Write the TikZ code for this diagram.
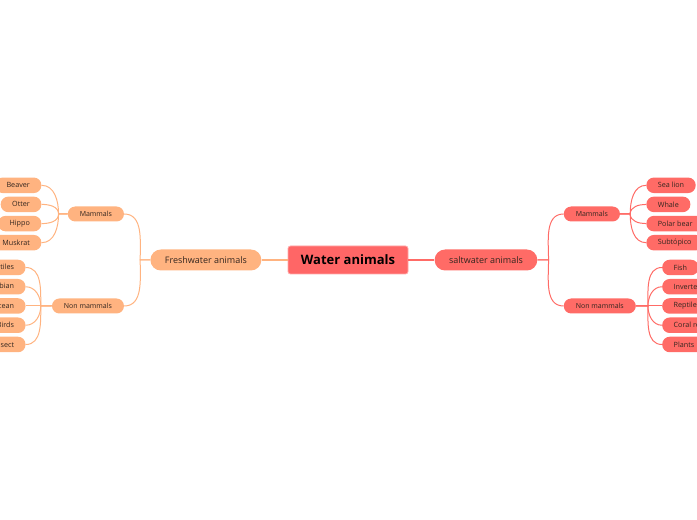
\documentclass[tikz,border=0pt]{standalone}
\usepackage{fontspec}
\setmainfont{Open Sans}
\usetikzlibrary{positioning}
\definecolor{freshorange}{HTML}{FFB380}
\definecolor{saltred}{HTML}{FF6B66}
\definecolor{rootred}{HTML}{FF6666}
\definecolor{rootedge}{HTML}{FFA8A8}
\definecolor{inktext}{HTML}{33261F}
\begin{document}
\begin{tikzpicture}[x=1pt,y=1pt,node distance=26pt,text=inktext,
root/.style={rectangle, rounded corners=2.5pt, fill=rootred, draw=rootedge, line width=0.8pt, minimum width=120pt, minimum height=28pt, font=\fontsize{13}{15}\selectfont\bfseries, text=black},
fresh_main/.style={rectangle, rounded corners=10.5pt, fill=freshorange, minimum height=21pt, inner xsep=14.5pt, inner ysep=0pt, font=\fontsize{9}{11}\selectfont},
salt_main/.style={fresh_main, fill=saltred},
fresh_sub/.style={rectangle, rounded corners=7.5pt, fill=freshorange, minimum height=15pt, inner xsep=12pt, inner ysep=0pt, font=\fontsize{7}{8}\selectfont},
salt_sub/.style={fresh_sub, fill=saltred},
fresh_leaf/.style={fresh_sub, inner xsep=11.5pt, minimum height=15.5pt, font=\fontsize{7.2}{8}\selectfont},
salt_leaf/.style={fresh_leaf, fill=saltred},
fresh_line/.style={draw=freshorange, line width=1pt},
salt_line/.style={draw=saltred, line width=1pt},]
\useasboundingbox (0,0) rectangle (697,520);
\clip (0,0) rectangle (697,520);
% centre and first level
\node[root] (water) at (348,260) {Water animals};
\node[fresh_main, left=of water] (fresh) {Freshwater animals};
\node[salt_main, right=of water] (salt) {saltwater animals};
% freshwater side
\node[fresh_sub, left=of fresh, yshift=46pt] (mam_f) {Mammals};
\node[fresh_sub, left=of fresh, yshift=-46pt] (non_f) {Non mammals};
\node[fresh_leaf, left=of mam_f, yshift=28.7pt] (beaver) {Beaver};
\node[fresh_leaf, left=of mam_f, yshift=9.6pt] (otter) {Otter};
\node[fresh_leaf, left=of mam_f, yshift=-9.6pt] (hippo) {Hippo};
\node[fresh_leaf, left=of mam_f, yshift=-28.7pt] (muskrat) {Muskrat};
\node[fresh_leaf, left=of non_f, yshift=38.5pt] (reptiles_f) {Reptiles};
\node[fresh_leaf, left=of non_f, yshift=19.25pt] (amphibian) {Amphibian};
\node[fresh_leaf, left=of non_f] (crustacean) {Crustacean};
\node[fresh_leaf, left=of non_f, yshift=-19.25pt] (birds) {Birds};
\node[fresh_leaf, left=of non_f, yshift=-38.5pt] (insect) {Insect};
% saltwater side
\node[salt_sub, right=of salt, yshift=46pt] (mam_s) {Mammals};
\node[salt_sub, right=of salt, yshift=-46pt] (non_s) {Non mammals};
\node[salt_leaf, right=of mam_s, yshift=28.7pt] (sealion) {Sea lion};
\node[salt_leaf, right=of mam_s, yshift=9.6pt] (whale) {Whale};
\node[salt_leaf, right=of mam_s, yshift=-9.6pt] (polarbear) {Polar bear};
\node[salt_leaf, right=of mam_s, yshift=-28.7pt] (subtopico) {Subtópico};
\node[salt_leaf, right=of non_s, yshift=38.5pt] (fish) {Fish};
\node[salt_leaf, right=of non_s, yshift=19.25pt] (invert) {Invertebrates};
\node[salt_leaf, right=of non_s] (reptiles_s) {Reptiles};
\node[salt_leaf, right=of non_s, yshift=-19.25pt] (coral) {Coral reef};
\node[salt_leaf, right=of non_s, yshift=-38.5pt] (plants) {Plants};
% connectors
\draw[fresh_line, line width=1.5pt] (water) -- (fresh);
\draw[salt_line, line width=1.5pt] (water) -- (salt);
\draw[fresh_line] (fresh.west) -- ++(-10,0) to[out=90,in=0] (mam_f.east);
\draw[fresh_line] (fresh.west) -- ++(-10,0) to[out=-90,in=0] (non_f.east);
\draw[salt_line] (salt.east) -- ++(11,0) to[out=90,in=180] (mam_s.west);
\draw[salt_line] (salt.east) -- ++(11,0) to[out=-90,in=180] (non_s.west);
\draw[fresh_line] (mam_f.west) -- ++(-9,0) to[out=90,in=0] (beaver.east);
\draw[fresh_line] (mam_f.west) -- ++(-9,0) to[out=90,in=0] (otter.east);
\draw[fresh_line] (mam_f.west) -- ++(-9,0) to[out=-90,in=0] (hippo.east);
\draw[fresh_line] (mam_f.west) -- ++(-9,0) to[out=-90,in=0] (muskrat.east);
\draw[fresh_line] (non_f.west) -- ++(-11,0) to[out=90,in=0] (reptiles_f.east);
\draw[fresh_line] (non_f.west) -- ++(-11,0) to[out=90,in=0] (amphibian.east);
\draw[fresh_line] (non_f.west) -- (crustacean.east);
\draw[fresh_line] (non_f.west) -- ++(-11,0) to[out=-90,in=0] (birds.east);
\draw[fresh_line] (non_f.west) -- ++(-11,0) to[out=-90,in=0] (insect.east);
\draw[salt_line] (mam_s.east) -- ++(10,0) to[out=90,in=180] (sealion.west);
\draw[salt_line] (mam_s.east) -- ++(10,0) to[out=90,in=180] (whale.west);
\draw[salt_line] (mam_s.east) -- ++(10,0) to[out=-90,in=180] (polarbear.west);
\draw[salt_line] (mam_s.east) -- ++(10,0) to[out=-90,in=180] (subtopico.west);
\draw[salt_line] (non_s.east) -- ++(12,0) to[out=90,in=180] (fish.west);
\draw[salt_line] (non_s.east) -- ++(12,0) to[out=90,in=180] (invert.west);
\draw[salt_line] (non_s.east) -- (reptiles_s.west);
\draw[salt_line] (non_s.east) -- ++(12,0) to[out=-90,in=180] (coral.west);
\draw[salt_line] (non_s.east) -- ++(12,0) to[out=-90,in=180] (plants.west);
\end{tikzpicture}
\end{document}
